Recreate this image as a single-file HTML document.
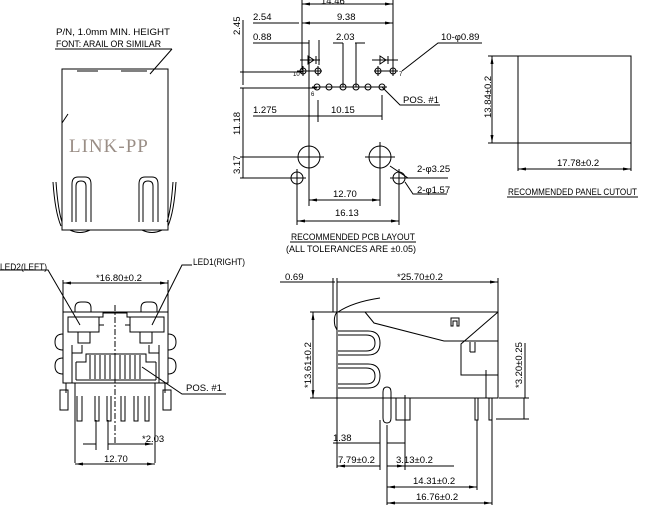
<!DOCTYPE html>
<html><head><meta charset="utf-8"><style>
html,body{margin:0;padding:0;background:#fff}
svg{display:block}
text{font-family:"Liberation Sans",sans-serif;font-size:9.5px;fill:#000}
</style></head><body>
<svg width="646" height="510" viewBox="0 0 646 510" xmlns="http://www.w3.org/2000/svg">
<defs>
<marker id="a" markerWidth="8" markerHeight="6" refX="8" refY="3" orient="auto-start-reverse" markerUnits="userSpaceOnUse"><path d="M0,1.5 L8,3 L0,4.5z" fill="#000"/></marker>
</defs>
<g stroke="#000" stroke-width="1" fill="none">
<rect x="62" y="69" width="106" height="161"/>
<path d="M77,71h21M121,71h26"/>
<path d="M55,49h117M172,49L150,74M62,123L68,114"/>
<path d="M72,222V184q0,-7 6,-7h7q6,0 6,7V222M76,222V186q0,-5 5,-5q5,0 5,5V222"/>
<path d="M139,222V184q0,-7 6,-7h7q6,0 6,7V222M143,222V186q0,-5 5,-5q5,0 5,5V222"/>
<path d="M53,182q2,30 8,44M56,182q2,28 6,40M176,182q-2,30 -8,44M173,182q-2,28 -6,40"/>
<path d="M70,230q10,5 20,0M142,230q10,5 20,0"/>

<path d="M302,4h91" marker-start="url(#a)" marker-end="url(#a)"/>
<path d="M302,0v70M393,0v70"/>
<path d="M253,23h46M319,23h74" marker-end="url(#a)"/>
<path d="M302,23h17" marker-start="url(#a)"/>
<path d="M253,43h47M309,43h-9M343,43h-10M355,43h10"/>
<path d="M309,40v120M319,40v25"/>
<path d="M343,43V87M356,43V87"/>
<path d="M243,20v65M243,88v90" />
<path d="M240,72h63M240,88h77M240,157h58M240,178h48"/>
<path d="M253,116h56M309,116h73" />
<path d="M318,100v22M382,95v25"/>
<path d="M297,170v55M399,170v55M309,168v38M380,168v38"/>
<path d="M309,200h71" marker-start="url(#a)" marker-end="url(#a)"/>
<path d="M297,221h102" marker-start="url(#a)" marker-end="url(#a)"/>
<path d="M300,60h20M308,56v8l6,-4zM316,56v8M372,60h26M380,56v8l6,-4zM388,56v8"/>
<g>
<circle cx="303" cy="71" r="3"/><circle cx="318" cy="71" r="3"/><circle cx="378" cy="71" r="3"/><circle cx="393" cy="71" r="3"/>
<circle cx="317" cy="87" r="3"/><circle cx="329" cy="87" r="3"/><circle cx="343" cy="87" r="3"/><circle cx="356" cy="87" r="3"/><circle cx="368" cy="87" r="3"/><circle cx="382" cy="87" r="3"/>
<path d="M297,71h25M374,71h24M312,87h75M303,66v10M318,66v10M378,66v10M393,66v10"/>
</g>
<circle cx="309" cy="157" r="11"/><circle cx="380" cy="157" r="11"/>
<circle cx="297" cy="178" r="6"/><circle cx="399" cy="178" r="6"/>
<path d="M294,157h30M309,142v30M365,157h30M380,142v30M288,178h18M297,169v18M390,178h18M399,169v18"/>
<path d="M482,43h-44L402,71M382,87L400,105h40M390,166L408,178h40M405,182l8,12h34"/>
<path d="M290,242h126"/>
<rect x="518" y="56" width="113" height="87"/>
<path d="M492,56v87" marker-start="url(#a)" marker-end="url(#a)"/>
<path d="M488,56h30M488,143h30M518,143v28M631,143v28"/>
<path d="M518,169h113" marker-start="url(#a)" marker-end="url(#a)"/>
<path d="M507,197h131"/>

<path d="M63,283h105" marker-start="url(#a)" marker-end="url(#a)"/>
<path d="M63,280v32M168,280v32"/>
<rect x="63" y="312" width="105" height="71"/>
<path d="M75,312v-4q0,-6 6,-6h4q6,0 6,6v4M141,312v-4q0,-6 6,-6h4q6,0 6,6v4"/>
<rect x="68" y="317" width="31" height="15"/><rect x="130" y="317" width="34" height="15"/>
<path d="M99,317h4v-4h24v4h3M99,325h5M130,325h-5"/>
<path d="M78,332v11h12v-11M140,332v11h12v-11"/>
<path d="M72,345v8h10v-8M72,353v30M159,345v8h-10v-8M159,353v30M76,380h80M76,362v18M156,362v18M76,362h10v-8h60v8h10"/>
<path d="M90,355v24M95,355v24M100,355v24M105,355v24M110,355v24M115,355v24M120,355v24M125,355v24M130,355v24M135,355v24M140,355v24"/>
<path d="M115,305v140" stroke-dasharray="6,2,2,2"/>
<path d="M63,334q-8,0 -8,8t8,8M63,358q-8,0 -8,8t8,8M168,334q8,0 8,8t-8,8M168,358q8,0 8,8t-8,8"/>
<path d="M60,390v20h8v-20zM163,390v20h8v-20zM66,383v10M165,383v10"/>
<path d="M77,396v25h5v-25M95,396v25h4v-25M107,396v25h4v-25M121,396v25h4v-25M134,396v25h4v-25M145,396v25h4v-25"/>
<path d="M75,383v80M155,383v80M96,420v30M108,420v30"/>
<path d="M83,444h13M108,444h45" marker-end="url(#a)"/>
<path d="M75,464h80" marker-start="url(#a)" marker-end="url(#a)"/>
<path d="M0,270h48L80,325M192,265h-10L152,325M142,367L182,394h44"/>

<path d="M280,282h55M337,282h161" marker-end="url(#a)"/>
<path d="M333,278v34M337,278v34M498,278v34"/>
<path d="M313,312v86" marker-start="url(#a)" marker-end="url(#a)"/>
<path d="M310,312h27M310,398h27"/>
<path d="M337,312h161v86h-161zM337,312q-4,5 -2,14l2,4"/>
<path d="M338,312q15,-10 42,-14"/>
<path d="M365,312l9,11l70,18h54M444,341l10,0"/>
<path d="M498,312l-37,32v31h37M486,370v28"/>
<path d="M451,318v8h2v-5h4v5h2v-8z"/>
<path d="M470,352v-10M470,352h5v-10"/>
<path d="M338,331h30q12,0 12,12t-12,12h-30M338,335h28q9,0 9,8t-9,8h-28"/>
<path d="M338,364h30q12,0 12,12t-12,12h-30M338,368h28q9,0 9,8t-9,8h-28"/>
<path d="M383,392v26q0,5 4,5t4,-5v-26q0,-5 -4,-5t-4,5z"/>
<path d="M396,398v22h14v-22M405,395v40"/>
<path d="M475,398v22h3v-22M489,398v22h3v-22"/>
<path d="M499,398h30M496,419h33M524,398v21" />
<path d="M337,398v70M380,420v50M387,425v80M405,420v50M477,420v70M492,420v85"/>
<path d="M333,443h47M387,443h18"/>
<path d="M337,466h43M387,466h18" marker-start="url(#a)" marker-end="url(#a)"/>
<path d="M387,487h90" marker-start="url(#a)" marker-end="url(#a)"/>
<path d="M387,503h105" marker-start="url(#a)" marker-end="url(#a)"/>
<path d="M395,466h59M525,343v55"/>
</g>
<g>
<text x="56" y="35" textLength="114" lengthAdjust="spacingAndGlyphs">P/N, 1.0mm MIN. HEIGHT</text>
<text x="56" y="47" textLength="105" lengthAdjust="spacingAndGlyphs">FONT: ARAIL OR SIMILAR</text>
<text x="69" y="152" style="font-family:'Liberation Serif',serif;font-size:19px;fill:#9a8e86;letter-spacing:1px">LINK-PP</text>
<text x="321" y="4">14.46</text>
<text x="253" y="20">2.54</text>
<text x="337" y="20">9.38</text>
<text x="253" y="40">0.88</text>
<text x="336" y="40">2.03</text>
<text x="253" y="113">1.275</text>
<text x="331" y="113">10.15</text>
<text x="333" y="197">12.70</text>
<text x="335" y="216">16.13</text>
<text x="291" y="240" textLength="124" lengthAdjust="spacingAndGlyphs">RECOMMENDED PCB LAYOUT</text>
<text x="286" y="252" textLength="130" lengthAdjust="spacingAndGlyphs">(ALL TOLERANCES ARE ±0.05)</text>
<text x="441" y="40">10-φ0.89</text>
<text x="403" y="103">POS. #1</text>
<text x="417" y="172">2-φ3.25</text>
<text x="417" y="193">2-φ1.57</text>
<text x="293" y="76" style="font-size:6px">10</text>
<text x="399" y="76" style="font-size:6px">7</text>
<text x="311" y="96" style="font-size:6px">6</text>
<text transform="translate(240,35) rotate(-90)">2.45</text>
<text transform="translate(240,135) rotate(-90)">11.18</text>
<text transform="translate(240,174) rotate(-90)">3.17</text>
<text transform="translate(491,118) rotate(-90)">13.84±0.2</text>
<text x="557" y="166">17.78±0.2</text>
<text x="508" y="195" textLength="129" lengthAdjust="spacingAndGlyphs">RECOMMENDED PANEL CUTOUT</text>
<text x="0" y="270" textLength="47" lengthAdjust="spacingAndGlyphs">LED2(LEFT)</text>
<text x="193" y="265" textLength="52" lengthAdjust="spacingAndGlyphs">LED1(RIGHT)</text>
<text x="96" y="281">*16.80±0.2</text>
<text x="186" y="391">POS. #1</text>
<text x="142" y="442">*2.03</text>
<text x="104" y="462">12.70</text>
<text x="285" y="280">0.69</text>
<text x="397" y="280">*25.70±0.2</text>
<text transform="translate(311,388) rotate(-90)">*13.61±0.2</text>
<text transform="translate(522,388) rotate(-90)">*3.20±0.25</text>
<text x="333" y="441">1.38</text>
<text x="338" y="463">7.79±0.2</text>
<text x="396" y="463">3.13±0.2</text>
<text x="413" y="484">14.31±0.2</text>
<text x="416" y="500">16.76±0.2</text>
</g>
</svg>
</body></html>
